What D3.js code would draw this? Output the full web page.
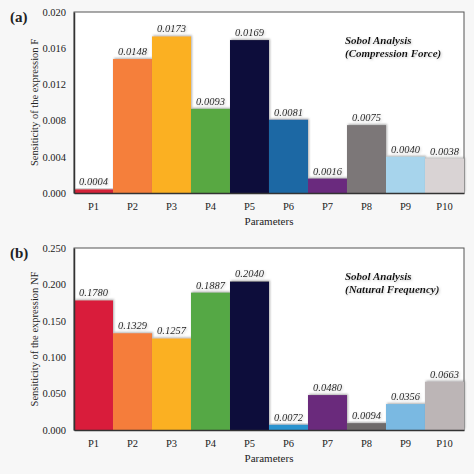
<!DOCTYPE html>
<html>
<head>
<meta charset="utf-8">
<script src="https://cdn.jsdelivr.net/npm/d3@7"></script>
<style>
  html, body { margin: 0; padding: 0; background: #f7f7f7; }
  svg { display: block; }
  svg text { font-family: 'Liberation Serif', serif; }
</style>
</head>
<body>
<svg id="chart" width="474" height="474"></svg>
<script>
// Parameters (shared by both panels)
const params = ['P1', 'P2', 'P3', 'P4', 'P5', 'P6', 'P7', 'P8', 'P9', 'P10'];

// Panel (a): compression force
const valuesF = [0.0004, 0.0148, 0.0173, 0.0093, 0.0169, 0.0081, 0.0016, 0.0075, 0.0040, 0.0038];
const ticksF = [0, 0.004, 0.008, 0.012, 0.016, 0.020];
const colorsF = ['#d42039', '#f57f3b', '#fbb023', '#58a843', '#0c0d3b',
                 '#1e67a4', '#6a2b7e', '#7c7778', '#a7d4ec', '#d9d3d4'];

// Panel (b): natural frequency
const valuesNF = [0.1780, 0.1329, 0.1257, 0.1887, 0.2040, 0.0072, 0.0480, 0.0094, 0.0356, 0.0663];
const ticksNF = [0, 0.05, 0.10, 0.15, 0.20, 0.25];
const colorsNF = ['#d91f3a', '#f57d3a', '#fbb021', '#55a844', '#0d0e3b',
                  '#2a93cf', '#6b2a7c', '#6e6a6b', '#7ab9e2', '#bcb5b6'];

(function() {
    'use strict';

    const svg = d3.select('#chart');

    // soft shadow like the original figure
    const defs = svg.append('defs');
    defs.append('filter')
        .attr('id', 'shadow')
        .attr('x', '-20%').attr('y', '-20%')
        .attr('width', '140%').attr('height', '140%')
        .append('feDropShadow')
        .attr('dx', 1).attr('dy', -1)
        .attr('stdDeviation', 1.2)
        .attr('flood-color', '#777')
        .attr('flood-opacity', 0.6);
    defs.append('filter')
        .attr('id', 'tshadow')
        .append('feDropShadow')
        .attr('dx', 1).attr('dy', 1)
        .attr('stdDeviation', 0.8)
        .attr('flood-color', '#999')
        .attr('flood-opacity', 0.5);

    function drawPanel(opt) {
        const x0 = 74, x1 = 464;
        const g = svg.append('g');

        const xScale = d3.scaleBand()
            .domain(params)
            .range([x0, x1])
            .padding(0);

        const yScale = d3.scaleLinear()
            .domain([0, opt.ticks[opt.ticks.length - 1]])
            .range([opt.bottom, opt.top]);

        // plot area
        g.append('rect')
            .attr('x', x0).attr('y', opt.top)
            .attr('width', x1 - x0).attr('height', opt.bottom - opt.top)
            .attr('fill', '#ffffff')
            .attr('stroke', '#555')
            .attr('stroke-width', 1);

        // bars
        g.selectAll('.bar')
            .data(opt.values)
            .enter()
            .append('rect')
            .attr('class', 'bar')
            .attr('x', (d, i) => xScale(params[i]))
            .attr('y', d => yScale(d))
            .attr('width', xScale.bandwidth())
            .attr('height', d => yScale(0) - yScale(d))
            .attr('fill', (d, i) => opt.colors[i])
            .attr('filter', 'url(#shadow)');

        // value labels
        g.selectAll('.val')
            .data(opt.values)
            .enter()
            .append('text')
            .attr('class', 'val')
            .attr('x', (d, i) => xScale(params[i]) + xScale.bandwidth() / 2)
            .attr('y', d => yScale(d) - 4)
            .attr('text-anchor', 'middle')
            .style('font-size', '10.5px')
            .style('font-style', 'italic')
            .style('fill', '#222')
            .attr('filter', 'url(#tshadow)')
            .text(d => d.toFixed(4));

        // axes
        const yAxis = g.append('g')
            .attr('transform', `translate(${x0}, 0)`)
            .call(d3.axisLeft(yScale)
                .tickValues(opt.ticks)
                .tickSize(0)
                .tickPadding(8)
                .tickFormat(d3.format('.3f')));
        yAxis.attr('font-family', 'Liberation Serif');
        yAxis.select('.domain').attr('stroke', '#333').attr('stroke-width', 1.5);
        yAxis.selectAll('text')
            .style('font-size', '10.5px')
            .attr('fill', '#222');

        const xAxis = g.append('g')
            .attr('transform', `translate(0, ${opt.bottom})`)
            .call(d3.axisBottom(xScale).tickSize(0).tickPadding(10));
        xAxis.attr('font-family', 'Liberation Serif');
        xAxis.select('.domain').attr('stroke', '#333').attr('stroke-width', 1.5);
        xAxis.selectAll('text')
            .style('font-size', '10.5px')
            .attr('fill', '#222');

        // axis titles
        g.append('text')
            .attr('x', (x0 + x1) / 2)
            .attr('y', opt.bottom + 32)
            .attr('text-anchor', 'middle')
            .style('font-size', '11px')
            .style('fill', '#222')
            .text('Parameters');

        g.append('text')
            .attr('transform', `translate(38, ${(opt.top + opt.bottom) / 2}) rotate(-90)`)
            .attr('text-anchor', 'middle')
            .style('font-size', '10.5px')
            .style('fill', '#222')
            .text(opt.yTitle);

        // panel letter
        g.append('text')
            .attr('x', 10)
            .attr('y', opt.top + 10)
            .style('font-size', '15px')
            .style('font-weight', 'bold')
            .style('fill', '#222')
            .text(opt.letter);

        // annotation
        const note = g.append('text')
            .attr('x', 345)
            .attr('y', opt.top + 32)
            .style('font-size', '11px')
            .style('font-weight', 'bold')
            .style('font-style', 'italic')
            .style('fill', '#111')
            .attr('filter', 'url(#tshadow)');
        note.append('tspan').attr('x', 345).text('Sobol Analysis');
        note.append('tspan').attr('x', 345).attr('dy', 13).text(opt.note);
    }

    drawPanel({
        top: 12, bottom: 193,
        values: valuesF, ticks: ticksF, colors: colorsF,
        yTitle: 'Sensiticity of the expression F',
        letter: '(a)',
        note: '(Compression Force)'
    });

    drawPanel({
        top: 248, bottom: 430,
        values: valuesNF, ticks: ticksNF, colors: colorsNF,
        yTitle: 'Sensiticity of the expression NF',
        letter: '(b)',
        note: '(Natural Frequency)'
    });
})();
</script>
</body>
</html>
